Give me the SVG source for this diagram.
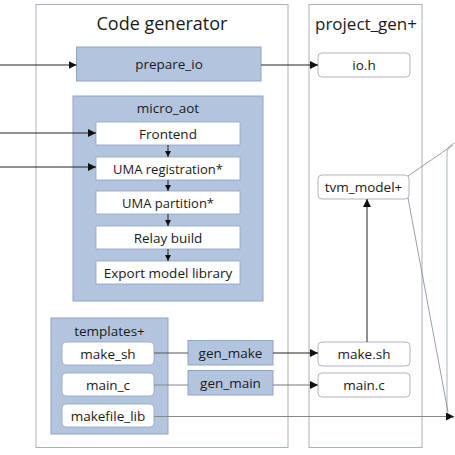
<svg xmlns="http://www.w3.org/2000/svg" width="455" height="455" viewBox="0 0 455 455">
<defs>
<marker id="ah" viewBox="0 0 10 10" refX="10" refY="5" markerWidth="8" markerHeight="8" markerUnits="userSpaceOnUse" orient="auto"><path d="M0,0 L10,5 L0,10 z" fill="#111"/></marker>
<marker id="ahs" viewBox="0 0 10 10" refX="10" refY="5" markerWidth="6" markerHeight="6" markerUnits="userSpaceOnUse" orient="auto"><path d="M0,0 L10,5 L0,10 z" fill="#111"/></marker>
<style>
.cont{fill:#fff;stroke:#a9b1ba;stroke-width:1}
.blue{fill:#b3c5de;stroke:#90a4c0;stroke-width:1}
.white{fill:#fff;stroke:#90a4c0;stroke-width:0.8}
.rw{fill:#fff;stroke:#9aa3ae;stroke-width:0.8}
text{font-family:"Open Sans","DejaVu Sans",sans-serif;fill:#1a1a1a;text-anchor:middle;dominant-baseline:central}
.t{font-size:13px}
.title{font-size:18px}
.c{stroke:#222;stroke-width:1;fill:none}
.g{stroke:#777;stroke-width:1;fill:none}
</style>
</defs>
<rect width="455" height="455" fill="#fff"/>
<g id="code_generator"><rect class="cont" x="36" y="4.5" width="252" height="443"/><text class="title" x="162" y="23">Code generator</text></g>
<g id="project_gen"><rect class="cont" x="309" y="4.5" width="113" height="443"/><text class="title" x="366" y="23" style="font-size:17px">project_gen+</text></g>
<g id="right_panel"><path d="M455,143 Q447,145 447,155 L447,410 Q447,418 455,418" fill="none" stroke="#b9c2ce" stroke-width="1.2"/></g>
<g id="prepare_io"><rect class="blue" x="76.5" y="47" width="184.5" height="34"/><text class="t" x="169" y="64" style="font-size:13.5px">prepare_io</text></g>
<g id="micro_aot"><rect class="blue" x="73" y="96" width="190" height="205"/><text class="t" x="168" y="108" style="font-size:13.5px">micro_aot</text></g>
<g id="frontend"><rect class="white" x="96" y="122" width="144" height="23"/><text class="t" x="168" y="133.5" style="font-size:13.5px">Frontend</text></g>
<g id="uma_registration"><rect class="white" x="96" y="157" width="144" height="23"/><text class="t" x="168" y="168.5">UMA registration*</text></g>
<g id="uma_partition"><rect class="white" x="96" y="191" width="144" height="23"/><text class="t" x="168" y="202.5">UMA partition*</text></g>
<g id="relay_build"><rect class="white" x="96" y="226" width="144" height="23"/><text class="t" x="168" y="237.5" style="font-size:13.5px">Relay build</text></g>
<g id="export_model_library"><rect class="white" x="96" y="261" width="144" height="23"/><text class="t" x="168" y="272.5" style="font-size:13.5px">Export model library</text></g>
<g id="templates"><rect class="blue" x="51" y="318" width="117" height="116"/><text class="t" x="109.5" y="330.5" style="font-size:13.5px">templates+</text></g>
<g id="make_sh"><rect class="white" x="62" y="342" width="92" height="23" rx="4"/><text class="t" x="108" y="353.5" style="font-size:13.5px">make_sh</text></g>
<g id="main_c"><rect class="white" x="62" y="373" width="92" height="23" rx="4"/><text class="t" x="108" y="384.5" style="font-size:13.5px">main_c</text></g>
<g id="makefile_lib"><rect class="white" x="62" y="404" width="92" height="23" rx="4"/><text class="t" x="108" y="415.5" style="font-size:13.5px">makefile_lib</text></g>
<g id="gen_make"><rect class="blue" x="188" y="340.5" width="85" height="24.5"/><text class="t" x="230.5" y="352.5" style="font-size:13.5px">gen_make</text></g>
<g id="gen_main"><rect class="blue" x="188" y="370.5" width="85" height="24.5"/><text class="t" x="230.5" y="382.5" style="font-size:13.5px">gen_main</text></g>
<g id="io_h"><rect class="rw" x="318" y="53" width="92" height="24" rx="4"/><text class="t" x="364" y="65" style="font-size:13.5px">io.h</text></g>
<g id="tvm_model"><rect class="rw" x="318" y="175" width="91" height="24" rx="4"/><text class="t" x="363.5" y="187" style="font-size:13.5px">tvm_model+</text></g>
<g id="make_sh_out"><rect class="rw" x="318" y="342" width="92" height="24" rx="4"/><text class="t" x="364" y="354" style="font-size:13.5px">make.sh</text></g>
<g id="main_c_out"><rect class="rw" x="318" y="373" width="92" height="24" rx="4"/><text class="t" x="364" y="385" style="font-size:13.5px">main.c</text></g>
<g id="connectors">
<line class="c" x1="0" y1="65" x2="76.5" y2="65" marker-end="url(#ah)"/>
<line class="c" x1="0" y1="133" x2="96" y2="133" marker-end="url(#ah)"/>
<line class="c" x1="0" y1="167" x2="96" y2="167" marker-end="url(#ah)"/>
<line class="c" x1="261" y1="65" x2="318" y2="65" marker-end="url(#ah)"/>
<line class="c" x1="168" y1="145" x2="168" y2="157" marker-end="url(#ahs)"/>
<line class="c" x1="168" y1="180" x2="168" y2="191" marker-end="url(#ahs)"/>
<line class="c" x1="168" y1="214" x2="168" y2="226" marker-end="url(#ahs)"/>
<line class="c" x1="168" y1="249" x2="168" y2="261" marker-end="url(#ahs)"/>
<line class="g" x1="154" y1="353" x2="188" y2="353" style="stroke:#555"/>
<line class="g" x1="154" y1="385" x2="188" y2="385" style="stroke:#888"/>
<line class="c" x1="273" y1="353" x2="318" y2="353" marker-end="url(#ah)"/>
<line class="c" x1="273" y1="385" x2="318" y2="385" style="stroke:#777" marker-end="url(#ah)"/>
<line class="c" x1="367" y1="342" x2="367" y2="199" marker-end="url(#ah)"/>
<line class="c" x1="154" y1="416.5" x2="454" y2="416.5" style="stroke:#888" marker-end="url(#ah)"/>
<line x1="408" y1="176" x2="453" y2="145" stroke="#7d8796" stroke-width="0.8"/>
<line x1="408" y1="198" x2="448" y2="412" stroke="#7d8796" stroke-width="0.8"/>
</g>
</svg>
